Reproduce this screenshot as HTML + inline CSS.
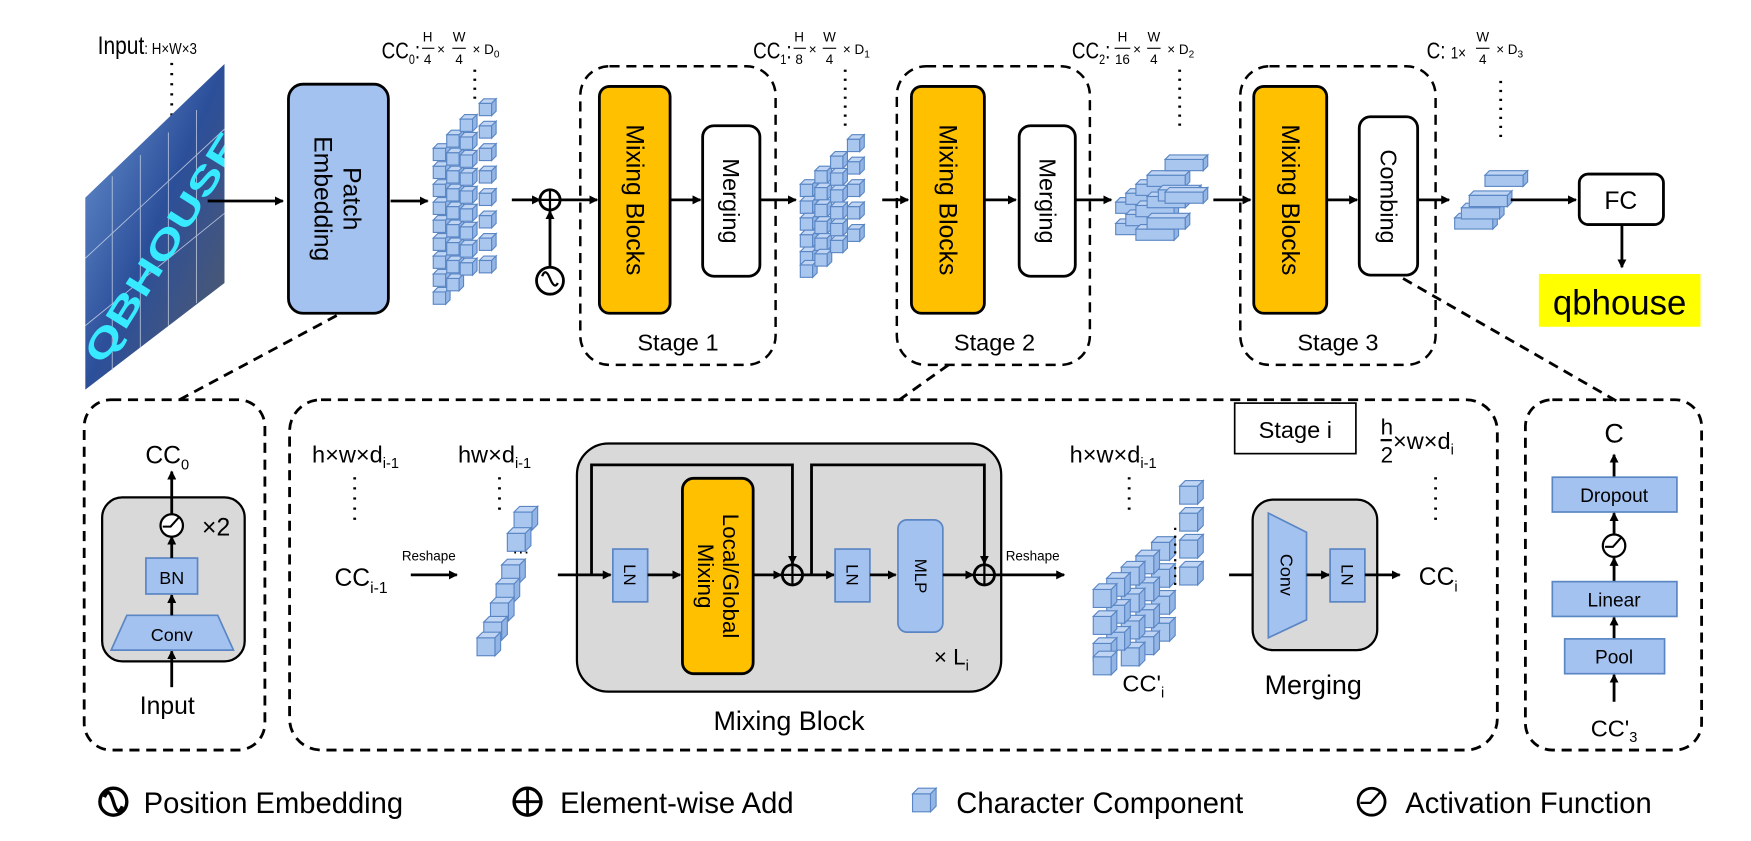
<!DOCTYPE html>
<html><head><meta charset="utf-8"><style>
html,body{margin:0;padding:0;background:#fff}
svg{display:block}
text{font-family:"Liberation Sans",Arial,sans-serif;fill:#000}
</style></head><body>
<svg width="1751" height="841" viewBox="0 0 1560 749" preserveAspectRatio="none" xmlns="http://www.w3.org/2000/svg">
<defs>
<marker id="ar" markerWidth="8" markerHeight="8" refX="7" refY="4" orient="auto" markerUnits="userSpaceOnUse"><path d="M0,0 L8,4 L0,8 z" fill="#000"/></marker>
<g id="c"><rect x="0" y="4" width="11" height="11" fill="#a9c6ef" stroke="#5a86c4" stroke-width="1"/><path d="M0,4 L4,0 L15,0 L11,4 z" fill="#bfd5f3" stroke="#5a86c4" stroke-width="1"/><path d="M11,4 L15,0 L15,11 L11,15 z" fill="#93b5e6" stroke="#5a86c4" stroke-width="1"/></g>
<g id="cl"><rect x="0" y="5" width="16" height="16" fill="#a9c6ef" stroke="#5a86c4" stroke-width="1"/><path d="M0,5 L5,0 L21,0 L16,5 z" fill="#bfd5f3" stroke="#5a86c4" stroke-width="1"/><path d="M16,5 L21,0 L21,16 L16,21 z" fill="#93b5e6" stroke="#5a86c4" stroke-width="1"/></g>
<g id="s"><rect x="0" y="4" width="34" height="10" fill="#a9c6ef" stroke="#5a86c4" stroke-width="1"/><path d="M0,4 L4,0 L38,0 L34,4 z" fill="#bfd5f3" stroke="#5a86c4" stroke-width="1"/><path d="M34,4 L38,0 L38,10 L34,14 z" fill="#93b5e6" stroke="#5a86c4" stroke-width="1"/></g>
<linearGradient id="ig" x1="0" y1="0" x2="1" y2="1"><stop offset="0" stop-color="#6f9ad6"/><stop offset="0.5" stop-color="#2c4f9a"/><stop offset="1" stop-color="#555b66"/></linearGradient>
<clipPath id="slab"><polygon points="200,57 200,252 76,347 76,176"/></clipPath>
</defs>

<!-- ===== TOP ROW ===== -->
<g transform="translate(87,48) scale(0.85,1)"><text x="0" y="0" font-size="22">Input<tspan font-size="14">: H×W×3</tspan></text></g>
<line x1="153" y1="56" x2="153" y2="105" stroke="#000" stroke-width="2.5" stroke-dasharray="2,7"/>
<polygon points="200,57 200,252 76,347 76,176" fill="url(#ig)"/>
<g stroke="#cfd8ea" stroke-width="0.8" opacity="0.8"><line x1="100" y1="157" x2="100" y2="330"/><line x1="125" y1="138" x2="125" y2="310"/><line x1="150" y1="118" x2="150" y2="290"/><line x1="175" y1="98" x2="175" y2="270"/><line x1="76" y1="230" x2="200" y2="115"/><line x1="76" y1="290" x2="200" y2="190"/></g>
<g clip-path="url(#slab)"><text x="0" y="0" font-size="32" font-weight="bold" style="fill:#38eaff" transform="translate(92,326) rotate(-58)" textLength="235" lengthAdjust="spacingAndGlyphs">QBHOUSE</text></g>
<line x1="185" y1="179" x2="252" y2="179" stroke="#000" stroke-width="2.5" marker-end="url(#ar)"/>

<rect x="257" y="75" width="89" height="204" rx="13" fill="#a4c2f0" stroke="#000" stroke-width="2.5"/>
<text transform="translate(301,177) rotate(90)" font-size="22" text-anchor="middle"><tspan x="0" y="-5">Patch</tspan><tspan x="0" y="21">Embedding</tspan></text>
<line x1="348" y1="179" x2="381" y2="179" stroke="#000" stroke-width="2.5" marker-end="url(#ar)"/>

<g transform="translate(340,52) scale(0.8,1)"><text x="0" y="0" font-size="21">CC<tspan font-size="12" dy="5">0</tspan><tspan dy="-5">:</tspan></text></g>
<g font-size="12" text-anchor="middle"><text x="381" y="37">H</text><line x1="376" y1="43" x2="387" y2="43" stroke="#000"/><text x="381" y="57">4</text>
<text x="393" y="48">×</text><text x="409" y="37">W</text><line x1="403" y1="43" x2="415" y2="43" stroke="#000"/><text x="409" y="57">4</text>
<text x="433" y="48">× D<tspan font-size="9" dy="3">0</tspan></text></g>
<line x1="423" y1="62" x2="423" y2="90" stroke="#000" stroke-width="2.5" stroke-dasharray="2,6"/>
<g>
<use href="#c" x="386" y="128"/><use href="#c" x="386" y="144"/><use href="#c" x="386" y="160"/><use href="#c" x="386" y="176"/><use href="#c" x="386" y="192"/><use href="#c" x="386" y="208"/><use href="#c" x="386" y="224"/><use href="#c" x="386" y="240"/><use href="#c" x="386" y="256"/>
<use href="#c" x="398" y="116"/><use href="#c" x="398" y="132"/><use href="#c" x="398" y="148"/><use href="#c" x="398" y="164"/><use href="#c" x="398" y="180"/><use href="#c" x="398" y="196"/><use href="#c" x="398" y="212"/><use href="#c" x="398" y="228"/><use href="#c" x="398" y="244"/>
<use href="#c" x="410" y="102"/><use href="#c" x="410" y="118"/><use href="#c" x="410" y="134"/><use href="#c" x="410" y="150"/><use href="#c" x="410" y="166"/><use href="#c" x="410" y="182"/><use href="#c" x="410" y="198"/><use href="#c" x="410" y="214"/><use href="#c" x="410" y="230"/>
<use href="#c" x="427" y="88"/><use href="#c" x="427" y="108"/><use href="#c" x="427" y="128"/><use href="#c" x="427" y="148"/><use href="#c" x="427" y="168"/><use href="#c" x="427" y="188"/><use href="#c" x="427" y="208"/><use href="#c" x="427" y="228"/>
</g>
<line x1="456" y1="178" x2="481" y2="178" stroke="#000" stroke-width="2.5" marker-end="url(#ar)"/>
<circle cx="490" cy="178" r="9" fill="none" stroke="#000" stroke-width="2.5"/><line x1="481" y1="178" x2="499" y2="178" stroke="#000" stroke-width="2"/><line x1="490" y1="169" x2="490" y2="187" stroke="#000" stroke-width="2"/>
<line x1="490" y1="237" x2="490" y2="188" stroke="#000" stroke-width="2.5" marker-end="url(#ar)"/>
<circle cx="490" cy="250" r="12" fill="none" stroke="#000" stroke-width="2.5"/><path d="M483,246 Q486,238 490,248 Q494,258 497,252" fill="none" stroke="#000" stroke-width="2"/>
<line x1="499" y1="178" x2="532" y2="178" stroke="#000" stroke-width="2.5" marker-end="url(#ar)"/>

<!-- Stage 1 -->
<rect x="517" y="59" width="174" height="266" rx="26" fill="none" stroke="#000" stroke-width="2.2" stroke-dasharray="9,6"/>
<rect x="534" y="77" width="63" height="202" rx="9" fill="#ffc000" stroke="#000" stroke-width="2.5"/>
<text transform="translate(566,178) rotate(90)" font-size="22" text-anchor="middle" y="8">Mixing  Blocks</text>
<line x1="597" y1="178" x2="624" y2="178" stroke="#000" stroke-width="2.5" marker-end="url(#ar)"/>
<rect x="626" y="112" width="51" height="134" rx="10" fill="#fff" stroke="#000" stroke-width="2.5"/>
<text transform="translate(651,179) rotate(90)" font-size="21" text-anchor="middle" y="7">Merging</text>
<text x="604" y="312" font-size="21" text-anchor="middle">Stage 1</text>
<line x1="677" y1="178" x2="709" y2="178" stroke="#000" stroke-width="2.5" marker-end="url(#ar)"/>

<g transform="translate(671,52) scale(0.8,1)"><text x="0" y="0" font-size="21">CC<tspan font-size="12" dy="5">1</tspan><tspan dy="-5">:</tspan></text></g>
<g font-size="12" text-anchor="middle"><text x="712" y="37">H</text><line x1="707" y1="43" x2="718" y2="43" stroke="#000"/><text x="712" y="57">8</text>
<text x="724" y="48">×</text><text x="739" y="37">W</text><line x1="733" y1="43" x2="745" y2="43" stroke="#000"/><text x="739" y="57">4</text>
<text x="763" y="48">× D<tspan font-size="9" dy="3">1</tspan></text></g>
<line x1="753" y1="62" x2="753" y2="112" stroke="#000" stroke-width="2.5" stroke-dasharray="2,6"/>
<g>
<use href="#c" x="713" y="160"/><use href="#c" x="713" y="175"/><use href="#c" x="713" y="190"/><use href="#c" x="713" y="205"/><use href="#c" x="713" y="220"/><use href="#c" x="713" y="232"/>
<use href="#c" x="726" y="148"/><use href="#c" x="726" y="163"/><use href="#c" x="726" y="178"/><use href="#c" x="726" y="193"/><use href="#c" x="726" y="208"/><use href="#c" x="726" y="222"/>
<use href="#c" x="740" y="135"/><use href="#c" x="740" y="150"/><use href="#c" x="740" y="165"/><use href="#c" x="740" y="180"/><use href="#c" x="740" y="195"/><use href="#c" x="740" y="210"/>
<use href="#c" x="755" y="120"/><use href="#c" x="755" y="140"/><use href="#c" x="755" y="160"/><use href="#c" x="755" y="180"/><use href="#c" x="755" y="200"/>
</g>
<line x1="786" y1="178" x2="809" y2="178" stroke="#000" stroke-width="2.5" marker-end="url(#ar)"/>

<!-- Stage 2 -->
<rect x="799" y="59" width="172" height="266" rx="26" fill="none" stroke="#000" stroke-width="2.2" stroke-dasharray="9,6"/>
<rect x="812" y="77" width="65" height="202" rx="9" fill="#ffc000" stroke="#000" stroke-width="2.5"/>
<text transform="translate(845,178) rotate(90)" font-size="22" text-anchor="middle" y="8">Mixing  Blocks</text>
<line x1="877" y1="178" x2="905" y2="178" stroke="#000" stroke-width="2.5" marker-end="url(#ar)"/>
<rect x="908" y="112" width="50" height="134" rx="10" fill="#fff" stroke="#000" stroke-width="2.5"/>
<text transform="translate(933,179) rotate(90)" font-size="21" text-anchor="middle" y="7">Merging</text>
<text x="886" y="312" font-size="21" text-anchor="middle">Stage 2</text>
<line x1="958" y1="178" x2="990" y2="178" stroke="#000" stroke-width="2.5" marker-end="url(#ar)"/>

<g transform="translate(955,52) scale(0.8,1)"><text x="0" y="0" font-size="21">CC<tspan font-size="12" dy="5">2</tspan><tspan dy="-5">:</tspan></text></g>
<g font-size="12" text-anchor="middle"><text x="1000" y="37">H</text><line x1="993" y1="43" x2="1007" y2="43" stroke="#000"/><text x="1000" y="57">16</text>
<text x="1013" y="48">×</text><text x="1028" y="37">W</text><line x1="1022" y1="43" x2="1034" y2="43" stroke="#000"/><text x="1028" y="57">4</text>
<text x="1052" y="48">× D<tspan font-size="9" dy="3">2</tspan></text></g>
<line x1="1051" y1="62" x2="1051" y2="112" stroke="#000" stroke-width="2.5" stroke-dasharray="2,6"/>
<g>
<use href="#s" x="994" y="195"/><use href="#s" x="994" y="176"/>
<use href="#s" x="1003" y="187"/><use href="#s" x="1003" y="168"/>
<use href="#s" x="1012" y="179"/><use href="#s" x="1012" y="160"/><use href="#s" x="1012" y="200"/>
<use href="#s" x="1022" y="171"/><use href="#s" x="1022" y="152"/><use href="#s" x="1022" y="190"/>
<use href="#s" x="1032" y="165"/><use href="#s" x="1038" y="138"/><use href="#s" x="1038" y="167"/>
</g>
<line x1="1081" y1="178" x2="1114" y2="178" stroke="#000" stroke-width="2.5" marker-end="url(#ar)"/>

<!-- Stage 3 -->
<rect x="1105" y="59" width="174" height="266" rx="26" fill="none" stroke="#000" stroke-width="2.2" stroke-dasharray="9,6"/>
<rect x="1117" y="77" width="65" height="202" rx="9" fill="#ffc000" stroke="#000" stroke-width="2.5"/>
<text transform="translate(1150,178) rotate(90)" font-size="22" text-anchor="middle" y="8">Mixing  Blocks</text>
<line x1="1182" y1="178" x2="1209" y2="178" stroke="#000" stroke-width="2.5" marker-end="url(#ar)"/>
<rect x="1211" y="104" width="52" height="141" rx="10" fill="#fff" stroke="#000" stroke-width="2.5"/>
<text transform="translate(1237,175) rotate(90)" font-size="21" text-anchor="middle" y="7">Combing</text>
<text x="1192" y="312" font-size="21" text-anchor="middle">Stage 3</text>
<line x1="1263" y1="178" x2="1291" y2="178" stroke="#000" stroke-width="2.5" marker-end="url(#ar)"/>

<g transform="translate(1271,52) scale(0.8,1)"><text x="0" y="0" font-size="21">C: <tspan font-size="15">1×</tspan></text></g>
<g font-size="12" text-anchor="middle"><text x="1321" y="37">W</text><line x1="1315" y1="43" x2="1327" y2="43" stroke="#000"/><text x="1321" y="57">4</text>
<text x="1345" y="48">× D<tspan font-size="9" dy="3">3</tspan></text></g>
<line x1="1337" y1="72" x2="1337" y2="128" stroke="#000" stroke-width="2.5" stroke-dasharray="2,6"/>
<g><use href="#s" x="1296" y="190"/><use href="#s" x="1302" y="181"/><use href="#s" x="1309" y="170"/><use href="#s" x="1323" y="152"/></g>
<line x1="1346" y1="178" x2="1404" y2="178" stroke="#000" stroke-width="2.5" marker-end="url(#ar)"/>
<rect x="1407" y="155" width="75" height="45" rx="8" fill="#fff" stroke="#000" stroke-width="2.5"/>
<text x="1444" y="186" font-size="22" text-anchor="middle">FC</text>
<line x1="1445" y1="200" x2="1445" y2="238" stroke="#000" stroke-width="2.5" marker-end="url(#ar)"/>
<rect x="1371" y="244" width="144" height="47" fill="#ffff00"/>
<text x="1443" y="280" font-size="31" text-anchor="middle">qbhouse</text>

<g stroke="#000" stroke-width="2.5" stroke-dasharray="9,6" fill="none">
<line x1="300" y1="281" x2="158" y2="357"/>
<line x1="845" y1="325" x2="800" y2="357"/>
<line x1="1250" y1="248" x2="1440" y2="357"/>
</g>

<!-- ===== BOTTOM LEFT ===== -->
<rect x="75" y="356" width="161" height="312" rx="24" fill="none" stroke="#000" stroke-width="2.5" stroke-dasharray="9,6"/>
<text x="149" y="413" font-size="22" text-anchor="middle">CC<tspan font-size="13" dy="5">0</tspan></text>
<rect x="91" y="443" width="127" height="146" rx="18" fill="#d9d9d9" stroke="#000" stroke-width="2"/>
<line x1="153" y1="612" x2="153" y2="580" stroke="#000" stroke-width="2.5" marker-end="url(#ar)"/>
<polygon points="113,548 194,548 208,579 99,579" fill="#a4c2f0" stroke="#5a86c4" stroke-width="1.5"/>
<text x="153" y="571" font-size="16" text-anchor="middle">Conv</text>
<line x1="153" y1="548" x2="153" y2="530" stroke="#000" stroke-width="2.5" marker-end="url(#ar)"/>
<rect x="130" y="497" width="46" height="32" fill="#a4c2f0" stroke="#5a86c4" stroke-width="1.5"/>
<text x="153" y="520" font-size="16" text-anchor="middle">BN</text>
<line x1="153" y1="497" x2="153" y2="478" stroke="#000" stroke-width="2.5" marker-end="url(#ar)"/>
<circle cx="153" cy="468" r="10" fill="#fff" stroke="#000" stroke-width="2"/><path d="M145,469 L152,469 L160,460" fill="none" stroke="#000" stroke-width="1.8"/>
<line x1="153" y1="458" x2="153" y2="420" stroke="#000" stroke-width="2.5" marker-end="url(#ar)"/>
<text x="180" y="477" font-size="22">×2</text>
<text x="149" y="636" font-size="22" text-anchor="middle">Input</text>

<!-- ===== STAGE i ===== -->
<rect x="258" y="356" width="1076" height="312" rx="28" fill="none" stroke="#000" stroke-width="2.5" stroke-dasharray="9,6"/>
<text x="278" y="412" font-size="21">h×w×d<tspan font-size="13" dy="5">i-1</tspan></text>
<text x="408" y="412" font-size="21">hw×d<tspan font-size="13" dy="5">i-1</tspan></text>
<line x1="316" y1="425" x2="316" y2="470" stroke="#000" stroke-width="2.5" stroke-dasharray="2,7"/>
<line x1="445" y1="425" x2="445" y2="455" stroke="#000" stroke-width="2.5" stroke-dasharray="2,7"/>
<text x="298" y="522" font-size="22">CC<tspan font-size="14" dy="6">i-1</tspan></text>
<text x="358" y="499" font-size="12">Reshape</text>
<line x1="366" y1="512" x2="407" y2="512" stroke="#000" stroke-width="2.5" marker-end="url(#ar)"/>
<g><use href="#cl" x="458" y="451"/><use href="#cl" x="452" y="470"/>
<text x="456" y="493" font-size="16">…</text>
<use href="#cl" x="447" y="498"/><use href="#cl" x="442" y="515"/><use href="#cl" x="437" y="532"/><use href="#cl" x="431" y="549"/><use href="#cl" x="425" y="563"/></g>

<rect x="514" y="395" width="378" height="221" rx="28" fill="#d9d9d9" stroke="#000" stroke-width="2"/>
<line x1="497" y1="512" x2="544" y2="512" stroke="#000" stroke-width="2.5" marker-end="url(#ar)"/>
<polyline points="527,512 527,414 706,414 706,502" fill="none" stroke="#000" stroke-width="2.5" marker-end="url(#ar)"/>
<rect x="546" y="489" width="31" height="47" fill="#a4c2f0" stroke="#5a86c4" stroke-width="1.5"/>
<text transform="translate(561,512) rotate(90)" font-size="15" text-anchor="middle" y="5">LN</text>
<line x1="577" y1="512" x2="606" y2="512" stroke="#000" stroke-width="2.5" marker-end="url(#ar)"/>
<rect x="608" y="426" width="63" height="174" rx="10" fill="#ffc000" stroke="#000" stroke-width="2.5"/>
<text transform="translate(640,513) rotate(90)" font-size="20" text-anchor="middle"><tspan x="0" y="-4">Local/Global</tspan><tspan x="0" y="18">Mixing</tspan></text>
<line x1="671" y1="512" x2="696" y2="512" stroke="#000" stroke-width="2.5" marker-end="url(#ar)"/>
<circle cx="706" cy="512" r="9" fill="none" stroke="#000" stroke-width="2.5"/><line x1="697" y1="512" x2="715" y2="512" stroke="#000" stroke-width="2"/><line x1="706" y1="503" x2="706" y2="521" stroke="#000" stroke-width="2"/>
<line x1="715" y1="512" x2="743" y2="512" stroke="#000" stroke-width="2.5" marker-end="url(#ar)"/>
<polyline points="723,512 723,414 877,414 877,502" fill="none" stroke="#000" stroke-width="2.5" marker-end="url(#ar)"/>
<rect x="744" y="489" width="31" height="47" fill="#a4c2f0" stroke="#5a86c4" stroke-width="1.5"/>
<text transform="translate(759,512) rotate(90)" font-size="15" text-anchor="middle" y="5">LN</text>
<line x1="775" y1="512" x2="798" y2="512" stroke="#000" stroke-width="2.5" marker-end="url(#ar)"/>
<rect x="800" y="463" width="40" height="100" rx="8" fill="#a4c2f0" stroke="#5a86c4" stroke-width="1.5"/>
<text transform="translate(820,513) rotate(90)" font-size="15" text-anchor="middle" y="5">MLP</text>
<line x1="840" y1="512" x2="867" y2="512" stroke="#000" stroke-width="2.5" marker-end="url(#ar)"/>
<circle cx="877" cy="512" r="9" fill="none" stroke="#000" stroke-width="2.5"/><line x1="868" y1="512" x2="886" y2="512" stroke="#000" stroke-width="2"/><line x1="877" y1="503" x2="877" y2="521" stroke="#000" stroke-width="2"/>
<text x="832" y="592" font-size="20">× L<tspan font-size="13" dy="5">i</tspan></text>
<text x="703" y="650" font-size="24" text-anchor="middle">Mixing Block</text>
<text x="896" y="499" font-size="12">Reshape</text>
<line x1="886" y1="512" x2="948" y2="512" stroke="#000" stroke-width="2.5" marker-end="url(#ar)"/>

<text x="953" y="412" font-size="21">h×w×d<tspan font-size="13" dy="5">i-1</tspan></text>
<line x1="1006" y1="425" x2="1006" y2="455" stroke="#000" stroke-width="2.5" stroke-dasharray="2,7"/>
<g>
<use href="#cl" x="1051" y="428"/><use href="#cl" x="1051" y="452"/><use href="#cl" x="1051" y="476"/><use href="#cl" x="1051" y="500"/>
<use href="#cl" x="1026" y="478"/><use href="#cl" x="1026" y="502"/><use href="#cl" x="1026" y="526"/><use href="#cl" x="1026" y="550"/>
<use href="#cl" x="1012" y="490"/><use href="#cl" x="1012" y="514"/><use href="#cl" x="1012" y="538"/><use href="#cl" x="1012" y="562"/>
<use href="#cl" x="999" y="500"/><use href="#cl" x="999" y="524"/><use href="#cl" x="999" y="548"/><use href="#cl" x="999" y="572"/>
<use href="#cl" x="986" y="510"/><use href="#cl" x="986" y="534"/><use href="#cl" x="986" y="558"/>
<use href="#cl" x="974" y="520"/><use href="#cl" x="974" y="544"/><use href="#cl" x="974" y="568"/><use href="#cl" x="974" y="580"/>
</g>
<line x1="1047" y1="470" x2="1047" y2="525" stroke="#000" stroke-width="2" stroke-dasharray="2,5"/>
<text x="1000" y="616" font-size="21">CC'<tspan font-size="13" dy="5">i</tspan></text>

<line x1="1095" y1="512" x2="1128" y2="512" stroke="#000" stroke-width="2.5" marker-end="url(#ar)"/>
<rect x="1116" y="445" width="111" height="134" rx="18" fill="#d9d9d9" stroke="#000" stroke-width="2"/>
<polygon points="1130,457 1164,474 1164,552 1130,568" fill="#a4c2f0" stroke="#5a86c4" stroke-width="1.5"/>
<text transform="translate(1147,512) rotate(90)" font-size="16" text-anchor="middle" y="6">Conv</text>
<line x1="1164" y1="512" x2="1184" y2="512" stroke="#000" stroke-width="2.5" marker-end="url(#ar)"/>
<rect x="1185" y="489" width="31" height="47" fill="#a4c2f0" stroke="#5a86c4" stroke-width="1.5"/>
<text transform="translate(1200,512) rotate(90)" font-size="15" text-anchor="middle" y="5">LN</text>
<line x1="1216" y1="512" x2="1247" y2="512" stroke="#000" stroke-width="2.5" marker-end="url(#ar)"/>
<text x="1264" y="521" font-size="22">CC<tspan font-size="13" dy="6">i</tspan></text>
<text x="1170" y="618" font-size="24" text-anchor="middle">Merging</text>

<rect x="1100" y="359" width="108" height="45" fill="#fff" stroke="#000" stroke-width="1.5"/>
<text x="1154" y="390" font-size="21" text-anchor="middle">Stage i</text>
<text x="1230" y="387" font-size="20">h</text>
<line x1="1230" y1="392" x2="1240" y2="392" stroke="#000" stroke-width="2"/>
<text x="1230" y="412" font-size="20">2</text>
<text x="1241" y="400" font-size="21">×w×d<tspan font-size="13" dy="5">i</tspan></text>
<line x1="1279" y1="425" x2="1279" y2="470" stroke="#000" stroke-width="2.5" stroke-dasharray="2,7"/>

<!-- ===== RIGHT BOX ===== -->
<rect x="1359" y="356" width="157" height="312" rx="24" fill="none" stroke="#000" stroke-width="2.5" stroke-dasharray="9,6"/>
<text x="1438" y="394" font-size="24" text-anchor="middle">C</text>
<line x1="1438" y1="425" x2="1438" y2="405" stroke="#000" stroke-width="2.5" marker-end="url(#ar)"/>
<rect x="1383" y="425" width="111" height="31" fill="#a4c2f0" stroke="#5a86c4" stroke-width="1.5"/>
<text x="1438" y="447" font-size="17" text-anchor="middle">Dropout</text>
<line x1="1438" y1="476" x2="1438" y2="457" stroke="#000" stroke-width="2.5" marker-end="url(#ar)"/>
<circle cx="1438" cy="486" r="10" fill="#fff" stroke="#000" stroke-width="2"/><path d="M1430,487 L1437,487 L1445,478" fill="none" stroke="#000" stroke-width="1.8"/>
<line x1="1438" y1="518" x2="1438" y2="497" stroke="#000" stroke-width="2.5" marker-end="url(#ar)"/>
<rect x="1383" y="518" width="111" height="31" fill="#a4c2f0" stroke="#5a86c4" stroke-width="1.5"/>
<text x="1438" y="540" font-size="17" text-anchor="middle">Linear</text>
<line x1="1438" y1="569" x2="1438" y2="550" stroke="#000" stroke-width="2.5" marker-end="url(#ar)"/>
<rect x="1394" y="569" width="89" height="31" fill="#a4c2f0" stroke="#5a86c4" stroke-width="1.5"/>
<text x="1438" y="591" font-size="17" text-anchor="middle">Pool</text>
<line x1="1438" y1="625" x2="1438" y2="601" stroke="#000" stroke-width="2.5" marker-end="url(#ar)"/>
<text x="1438" y="656" font-size="21" text-anchor="middle">CC'<tspan font-size="13" dy="5">3</tspan></text>

<!-- ===== LEGEND ===== -->
<circle cx="101" cy="714" r="12" fill="none" stroke="#000" stroke-width="3"/><path d="M93,710 Q97,700 101,714 Q105,728 109,718" fill="none" stroke="#000" stroke-width="3"/>
<text x="128" y="724" font-size="26">Position Embedding</text>
<circle cx="470" cy="714" r="12" fill="none" stroke="#000" stroke-width="3"/><line x1="458" y1="714" x2="482" y2="714" stroke="#000" stroke-width="2.5"/><line x1="470" y1="702" x2="470" y2="726" stroke="#000" stroke-width="2.5"/>
<text x="499" y="724" font-size="26">Element-wise Add</text>
<use href="#cl" x="813" y="702"/>
<text x="852" y="724" font-size="26">Character Component</text>
<circle cx="1222" cy="714" r="12" fill="none" stroke="#000" stroke-width="2.5"/><path d="M1212,715 L1221,715 L1230,705" fill="none" stroke="#000" stroke-width="2"/>
<text x="1252" y="724" font-size="26">Activation Function</text>
</svg>
</body></html>
